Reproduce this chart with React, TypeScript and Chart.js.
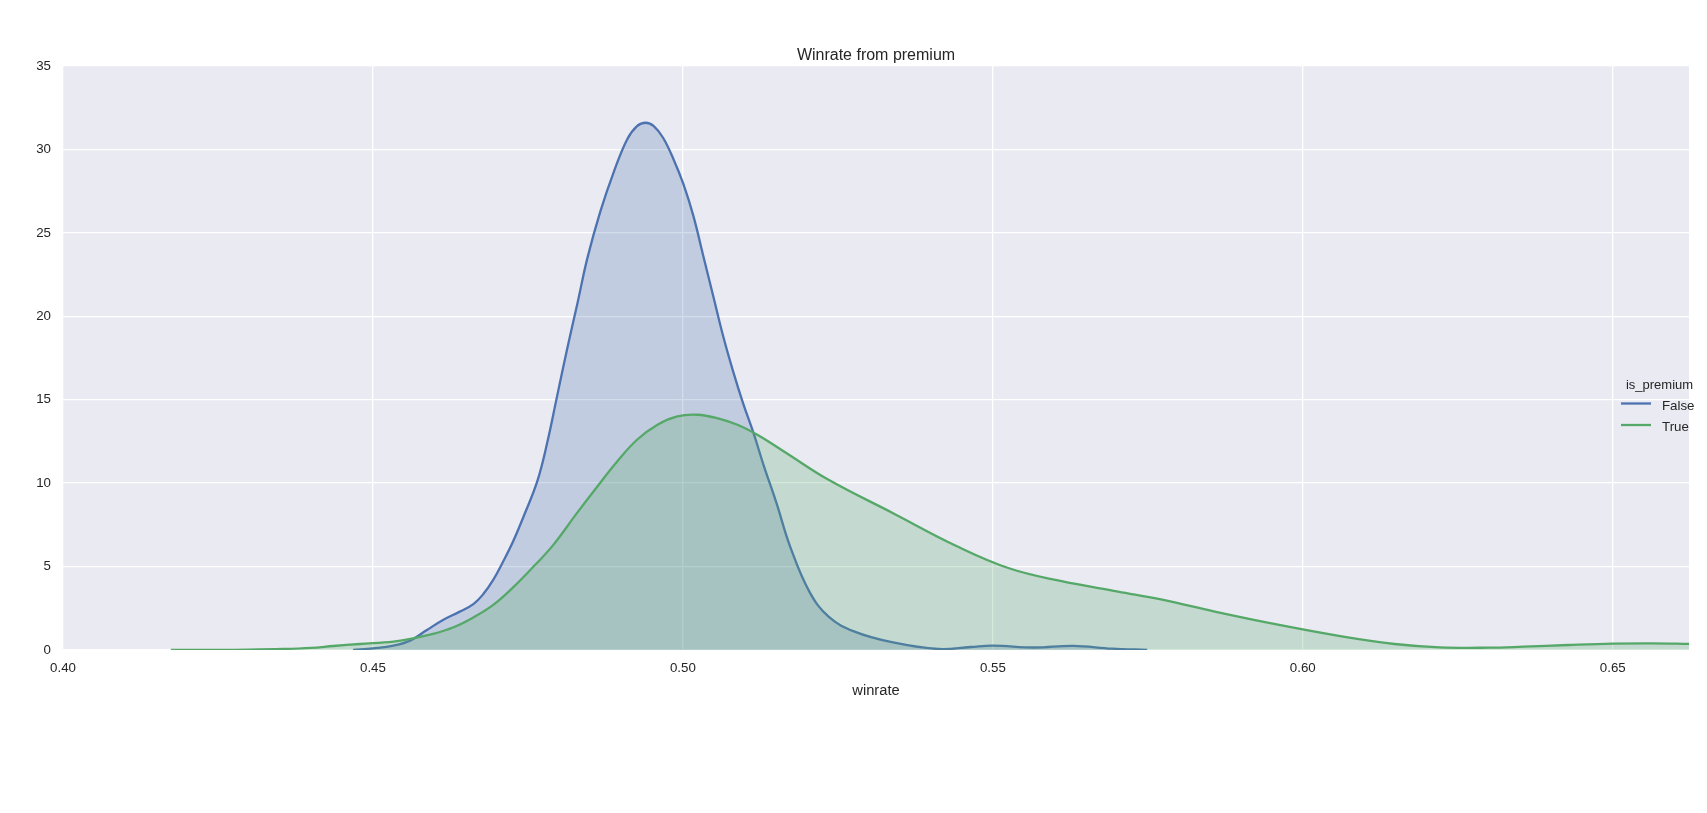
import { useEffect, useRef } from "react";
import { Chart, registerables } from "chart.js";

Chart.register(...registerables);

// ---- data ----
const falseX = [
  0.4468, 0.45, 0.4533, 0.456, 0.4587, 0.4613, 0.464, 0.4662, 0.4678, 0.4694,
  0.471, 0.4726, 0.4743, 0.4765, 0.4781, 0.4797, 0.4813, 0.483, 0.4846, 0.4867,
  0.4889, 0.491, 0.4926, 0.494, 0.4953, 0.4968, 0.4985, 0.5001, 0.5017, 0.5033,
  0.5049, 0.5065, 0.5081, 0.5097, 0.5114, 0.513, 0.5151, 0.5173, 0.5204, 0.5235,
  0.5277, 0.5339, 0.5412, 0.5464, 0.55, 0.5567, 0.563, 0.5692, 0.5749,
];
const falseY = [
  0.0, 0.1, 0.26, 0.56, 1.2, 1.8, 2.3, 2.75, 3.35, 4.2,
  5.3, 6.5, 8.0, 10.1, 12.4, 15.2, 18.0, 20.8, 23.5, 26.3,
  28.7, 30.6, 31.4, 31.6, 31.4, 30.7, 29.4, 27.9, 26.0, 23.6,
  21.2, 18.8, 16.7, 14.8, 13.0, 11.1, 8.8, 6.2, 3.5, 2.0,
  1.1, 0.45, 0.06, 0.18, 0.26, 0.15, 0.25, 0.08, 0.01,
];
const trueX = [
  0.4174, 0.425, 0.43, 0.4355, 0.44, 0.4436, 0.4479, 0.4533, 0.4565, 0.4597,
  0.463, 0.4662, 0.4694, 0.4726, 0.4759, 0.4791, 0.4829, 0.4862, 0.4894, 0.4926,
  0.4959, 0.4991, 0.5023, 0.5055, 0.5088, 0.512, 0.5163, 0.5235, 0.5339, 0.5443,
  0.5526, 0.5609, 0.5702, 0.5775, 0.5858, 0.5962, 0.6065, 0.6148, 0.6221, 0.63,
  0.6356, 0.6428, 0.65, 0.6563, 0.6625,
];
const trueY = [
  0.0, 0.01, 0.02, 0.06, 0.13, 0.24, 0.36, 0.5, 0.7, 0.96,
  1.36, 1.95, 2.7, 3.75, 5.0, 6.3, 8.2, 9.8, 11.3, 12.6,
  13.5, 14.0, 14.1, 13.9, 13.5, 12.9, 11.9, 10.2, 8.2, 6.2,
  4.9, 4.14, 3.5, 3.0, 2.3, 1.5, 0.8, 0.36, 0.16, 0.14,
  0.2, 0.3, 0.38, 0.4, 0.36,
];
const xTicks = [0.4, 0.45, 0.5, 0.55, 0.6, 0.65];
const yTicks = [0, 5, 10, 15, 20, 25, 30, 35];
const seriesNames = ["False", "True"];
const titleText = "Winrate from premium";
const xLabelText = "winrate";
const legendTitleText = "is_premium";

const BLUE = "#4c72b0";
const GREEN = "#55a868";
const TEXT = "#262626";
const FONT = "'Liberation Sans', Arial, sans-serif";

export default function App() {
  const ref = useRef<HTMLCanvasElement | null>(null);

  useEffect(() => {
    if (!ref.current) return;

    const bgPlugin = {
      id: "bg",
      beforeDraw(chart: any) {
        const { ctx, chartArea } = chart;
        ctx.save();
        ctx.fillStyle = "#eaeaf2";
        ctx.fillRect(chartArea.left, chartArea.top, chartArea.right - chartArea.left, chartArea.bottom - chartArea.top);
        ctx.restore();
      },
    };

    const textPlugin = {
      id: "texts",
      afterDraw(chart: any) {
        const { ctx, chartArea } = chart;
        const cx = (chartArea.left + chartArea.right) / 2;
        ctx.save();
        ctx.fillStyle = TEXT;
        ctx.textAlign = "center";
        ctx.textBaseline = "alphabetic";
        ctx.font = `16px ${FONT}`;
        ctx.fillText(titleText, cx, 59.5);
        ctx.font = `14.7px ${FONT}`;
        ctx.fillText(xLabelText, cx, 695);

        // legend
        ctx.font = `13px ${FONT}`;
        ctx.fillText(legendTitleText, 1659.5, 389);
        ctx.textAlign = "left";
        const colors = [BLUE, GREEN];
        const lineYs = [403.5, 425];
        const textYs = [410, 431];
        seriesNames.forEach((name, i) => {
          ctx.strokeStyle = colors[i];
          ctx.lineWidth = 2.3;
          ctx.beginPath();
          ctx.moveTo(1621, lineYs[i]);
          ctx.lineTo(1651, lineYs[i]);
          ctx.stroke();
          ctx.fillStyle = TEXT;
          ctx.font = `13.3px ${FONT}`;
          ctx.fillText(name, 1662, textYs[i]);
        });
        ctx.restore();
      },
    };

    const toPts = (xs: number[], ys: number[]) => xs.map((x, i) => ({ x, y: ys[i] }));

    const chart = new Chart(ref.current, {
      type: "line",
      data: {
        datasets: [
          {
            label: seriesNames[0],
            data: toPts(falseX, falseY),
            borderColor: BLUE,
            backgroundColor: "rgba(76,114,176,0.25)",
            borderWidth: 2.3,
            fill: "origin",
            pointRadius: 0,
            tension: 0.4,
            order: 2,
          },
          {
            label: seriesNames[1],
            data: toPts(trueX, trueY),
            borderColor: GREEN,
            backgroundColor: "rgba(85,168,104,0.25)",
            borderWidth: 2.3,
            fill: "origin",
            pointRadius: 0,
            tension: 0.4,
            order: 1,
          },
        ],
      },
      options: {
        animation: false,
        responsive: false,
        layout: { padding: { left: 0, top: 66, right: 18, bottom: 123 } },
        plugins: {
          legend: { display: false },
          title: { display: false },
          tooltip: { enabled: false },
        },
        scales: {
          x: {
            type: "linear",
            min: 0.4,
            max: 0.6623,
            afterBuildTicks: (scale: any) => {
              scale.ticks = xTicks.map((v) => ({ value: v }));
            },
            afterFit: (scale: any) => {
              scale.height = 40;
            },
            grid: { color: "#ffffff", lineWidth: 1.3, drawTicks: false },
            border: { display: false },
            ticks: {
              padding: 10,
              color: TEXT,
              font: { family: FONT, size: 13.3 },
              maxRotation: 0,
              callback: (v: any) => Number(v).toFixed(2),
            },
          },
          y: {
            type: "linear",
            min: 0,
            max: 35,
            afterBuildTicks: (scale: any) => {
              scale.ticks = yTicks.map((v) => ({ value: v }));
            },
            afterFit: (scale: any) => {
              scale.width = 63;
            },
            grid: { color: "#ffffff", lineWidth: 1.3, drawTicks: false },
            border: { display: false },
            ticks: {
              padding: 12,
              color: TEXT,
              font: { family: FONT, size: 13.3 },
              callback: (v: any) => String(v),
            },
          },
        },
      },
      plugins: [bgPlugin, textPlugin],
    } as any);

    return () => chart.destroy();
  }, []);

  return (
    <div style={{ position: "fixed", left: 0, top: 0, width: 1707, height: 813, background: "#ffffff" }}>
      <canvas ref={ref} width={1707} height={813} style={{ width: 1707, height: 813, display: "block" }} />
    </div>
  );
}
